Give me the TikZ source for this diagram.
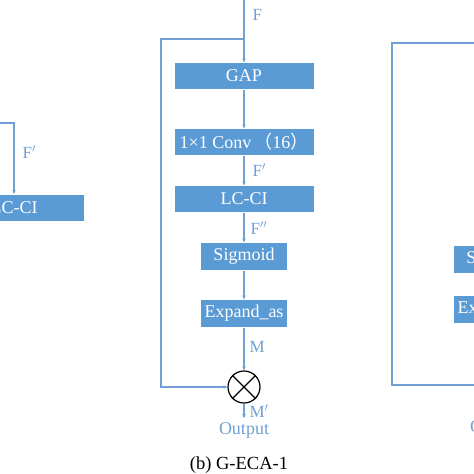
\documentclass[tikz,border=0pt]{standalone}
\usepackage{fontspec}
\setmainfont{Liberation Serif}
\newfontfamily\cjk{Noto Sans CJK SC}
\usepackage{tikz}
\usetikzlibrary{arrows.meta}
\definecolor{kasten}{RGB}{91,155,213}
\definecolor{linie}{RGB}{112,160,212}
\tikzset{>={Stealth[length=4pt,width=3.5pt]}}
\tikzset{
  block/.style={fill=kasten, text=white, minimum width=139pt, minimum height=26pt, inner sep=0pt, font=\fontsize{18}{18}\selectfont},
  small block/.style={block, minimum width=86pt, minimum height=27pt},
  lbl/.style={text=linie, anchor=west, inner sep=0pt, font=\fontsize{17}{17}\selectfont}
}

\begin{document}
\begin{tikzpicture}[x=1pt, y=-1pt, linie, line width=1.1pt]

	\useasboundingbox (0,0) rectangle (474,474);
	\clip (0,0) rectangle (474,474);

	% (a), only its right edge
	\node[block] (lcciA) at (14,207.5) {LC-CI};
	\coordinate (inA) at (0,123);
	\coordinate (bendA) at (14,123);
	\draw[->] (inA) -- (bendA) -- (lcciA);
	\node[lbl] (fA) at (22,152) {F$'$};

	% (b) G-ECA-1
	\coordinate (inB) at (244,0);
	\coordinate (splitB) at (244,39);
	\coordinate (skipB) at (161,39);
	\node[block] (gapB) at (244,76) {GAP};
	\node[block] (convB) at (244,142) {1×1 Conv\hspace{3pt}{\cjk （}16{\cjk ）}};
	\node[block] (lcciB) at (244,199) {LC-CI};
	\node[small block] (sigB) at (244,256.5) {Sigmoid};
	\node[small block] (expB) at (244,313.5) {Expand\_as};
	\node[circle, draw=black, line width=1.2pt, minimum size=32pt, inner sep=0pt] (mulB) at (244,387) {};
	\draw[black, line width=1.2pt] (mulB.north west) -- (mulB.south east) (mulB.north east) -- (mulB.south west);
	\node[text=linie, font=\fontsize{18}{18}\selectfont] (outB) at (244,430) {Output};
	\node[text=black, font=\fontsize{18.5}{18.5}\selectfont] (capB) at (239,465) {(b) G-ECA-1};

	\draw[->] (inB) -- (gapB);
	\draw[->] (splitB) -- (skipB) |- (mulB);
	\draw[->] (gapB) -- (convB);
	\draw[->] (convB) -- (lcciB);
	\draw[->] (lcciB) -- (sigB);
	\draw[->] (sigB) -- (expB);
	\draw[->] (expB) -- (mulB);
	\draw[->] (mulB) -- (outB);

	\node[lbl] (fB) at (252,15) {F};
	\node[lbl] (f1B) at (252,170) {F$'$};
	\node[lbl] (f2B) at (250,228) {F$''$};
	\node[lbl] (mB) at (249,347) {M};
	\node[lbl] (m1B) at (249,411) {M$'$};

	% (c), only its left edge
	\coordinate (inC) at (500,43);
	\coordinate (cornerC) at (392,200);
	\coordinate (outC) at (500,385);
	\draw (inC) -| (cornerC) |- (outC);
	\node[small block] (sigC) at (497,259.5) {Sigmoid};
	\node[small block] (expC) at (497,309.5) {Expand\_as};
	\node[text=linie, font=\fontsize{18}{18}\selectfont] (outTC) at (495,428) {Output};
\end{tikzpicture}
\end{document}
